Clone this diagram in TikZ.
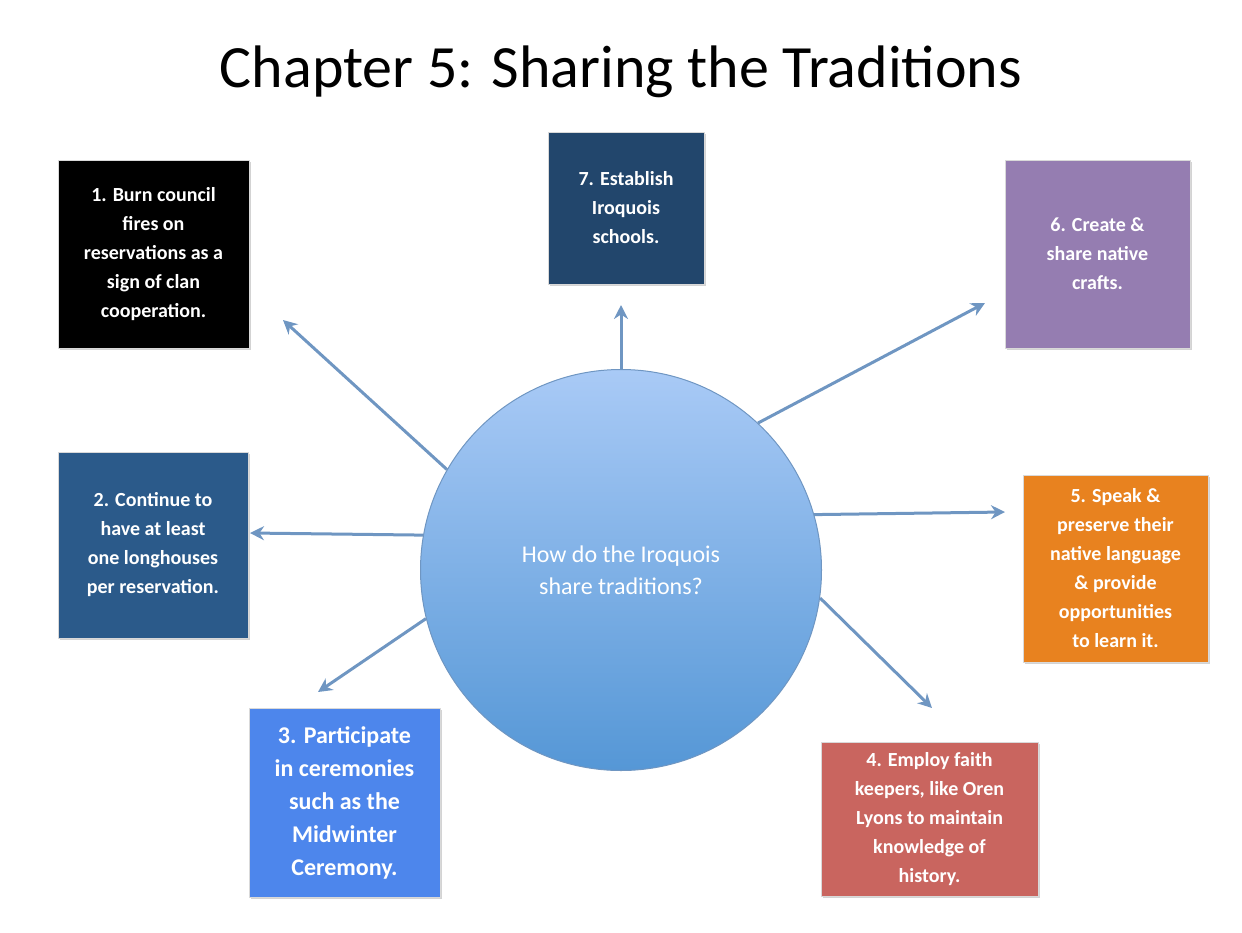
\documentclass[tikz,border=0pt]{standalone}
\usepackage{fontspec}
\setmainfont{Carlito}
\usetikzlibrary{arrows.meta,shadows}
\definecolor{arr}{HTML}{6F96C2}
\definecolor{cA}{HTML}{000000}
\definecolor{cB}{HTML}{2B5A8A}
\definecolor{cC}{HTML}{4D86EC}
\definecolor{cD}{HTML}{C9655F}
\definecolor{cE}{HTML}{E8821F}
\definecolor{cF}{HTML}{957DB1}
\definecolor{cG}{HTML}{22466C}
\definecolor{ctop}{HTML}{A9CAF6}
\definecolor{cbot}{HTML}{5597D6}
\tikzset{
 box/.style={draw=white!70!gray,line width=1pt,text=white,align=center,font=\fontsize{20}{29}\selectfont\bfseries,inner sep=0pt,drop shadow={opacity=0.35,shadow xshift=2pt,shadow yshift=-2pt}},
 con/.style={draw=arr,line width=3pt,-{Stealth[length=14pt,width=14pt]}}
}
\begin{document}
\begin{tikzpicture}[x=1pt,y=-1pt]
\useasboundingbox (0,0) rectangle (1242,932);
\node (title) at (621,72) {\fontsize{60}{70}\selectfont Chapter 5: Sharing the Traditions};
\node[circle,minimum size=401pt,shading=axis,top color=ctop,bottom color=cbot,draw=arr,line width=1pt,text=white,align=center,font=\fontsize{24}{32}\selectfont] (c) at (621,570) {How do the Iroquois\\share traditions?};
\node[box,fill=cA,minimum width=191pt,minimum height=188pt] (b1) at (153.5,254) {1. Burn council\\fires on\\reservations as a\\sign of clan\\cooperation.};
\node[box,fill=cG,minimum width=156pt,minimum height=152pt] (b7) at (626,208) {7. Establish\\Iroquois\\schools.};
\node[box,fill=cF,minimum width=185pt,minimum height=188pt] (b6) at (1097.5,254) {6. Create \&\\share native\\crafts.};
\node[box,fill=cB,minimum width=190pt,minimum height=186pt] (b2) at (153,545) {2. Continue to\\have at least\\one longhouses\\per reservation.};
\node[box,fill=cE,minimum width=185pt,minimum height=187pt] (b5) at (1115.5,568.5) {5. Speak \&\\preserve their\\native language\\\& provide\\opportunities\\to learn it.};
\node[box,fill=cC,minimum width=191pt,minimum height=189pt,font=\fontsize{24}{33}\selectfont\bfseries] (b3) at (344.5,802.5) {3. Participate\\in ceremonies\\such as the\\Midwinter\\Ceremony.};
\node[box,fill=cD,minimum width=217pt,minimum height=154pt] (b4) at (929.5,819) {4. Employ faith\\keepers, like Oren\\Lyons to maintain\\knowledge of\\history.};
\coordinate (e1) at (283,320);
\coordinate (e7) at (621,305);
\coordinate (e2) at (250,533);
\coordinate (e6) at (985,303);
\coordinate (e5) at (1005,512);
\coordinate (e4) at (932,708);
\coordinate (e3) at (318,692);
\draw[con] (c.150) -- (e1);
\draw[con] (c.90) -- (e7);
\draw[con] (c.170) -- (e2);
\draw[con] (c.47) -- (e6);
\draw[con] (c.16) -- (e5);
\draw[con] (c.-8) -- (e4);
\draw[con] (c.194) -- (e3);
\end{tikzpicture}
\end{document}
